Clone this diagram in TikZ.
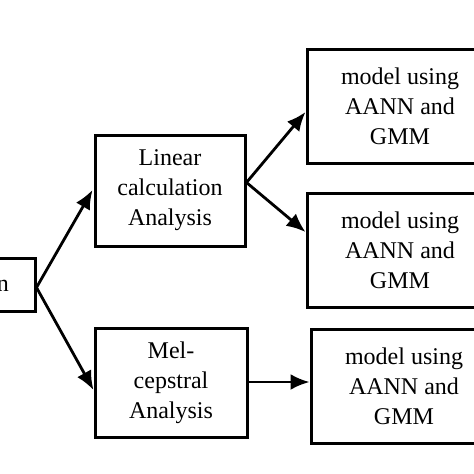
\documentclass[tikz,border=0pt]{standalone}
\usepackage{fontspec}
\setmainfont{Liberation Serif}
\usetikzlibrary{arrows.meta,calc}
\begin{document}
\begin{tikzpicture}[x=1pt,y=-1pt,
  box/.style={draw=black,line width=3pt,align=center,inner sep=0pt,
    font=\fontsize{24pt}{30pt}\selectfont},
  conn/.style={line width=2.8pt,-{Latex[length=19pt,width=16pt]}}]
\useasboundingbox (0,0) rectangle (474,474);
\clip (0,0) rectangle (474,474);
\fill[white] (0,0) rectangle (474,474);
\node[box,minimum width=95pt,minimum height=53pt] (src) at (-12.5,284.5) {};
\node[font=\fontsize{24pt}{30pt}\selectfont,inner sep=0pt,anchor=base] (srct) at (3,291) {n};
\node[box,minimum width=150pt,minimum height=111pt] (lin) at (170,190.5) {Linear\\calculation\\Analysis};
\node[box,minimum width=152pt,minimum height=109pt] (mel) at (171,382.5) {Mel-\\cepstral\\Analysis};
\node[box,minimum width=186pt,minimum height=114pt] (m1) at (400,106) {model using\\AANN and\\GMM};
\node[box,minimum width=186pt,minimum height=114pt] (m2) at (400,250) {model using\\AANN and\\GMM};
\node[box,minimum width=186pt,minimum height=114pt] (m3) at (404,386) {model using\\AANN and\\GMM};
\draw[conn] ($(src.east)+(0,3)$) -- ($(lin.west)+(-1,-0.5)$);
\draw[conn] ($(src.east)+(0,3)$) -- ($(mel.west)+(0,7.5)$);
\draw[conn] ($(lin.east)+(0,-8)$) -- ($(m1.west)+(0,6)$);
\draw[conn] ($(lin.east)+(0,-8)$) -- ($(m2.west)+(0,-18)$);
\draw[conn] ($(mel.east)+(0,-0.5)$) -- (m3.west |- {$(mel.east)+(0,-0.5)$});
\end{tikzpicture}
\end{document}
